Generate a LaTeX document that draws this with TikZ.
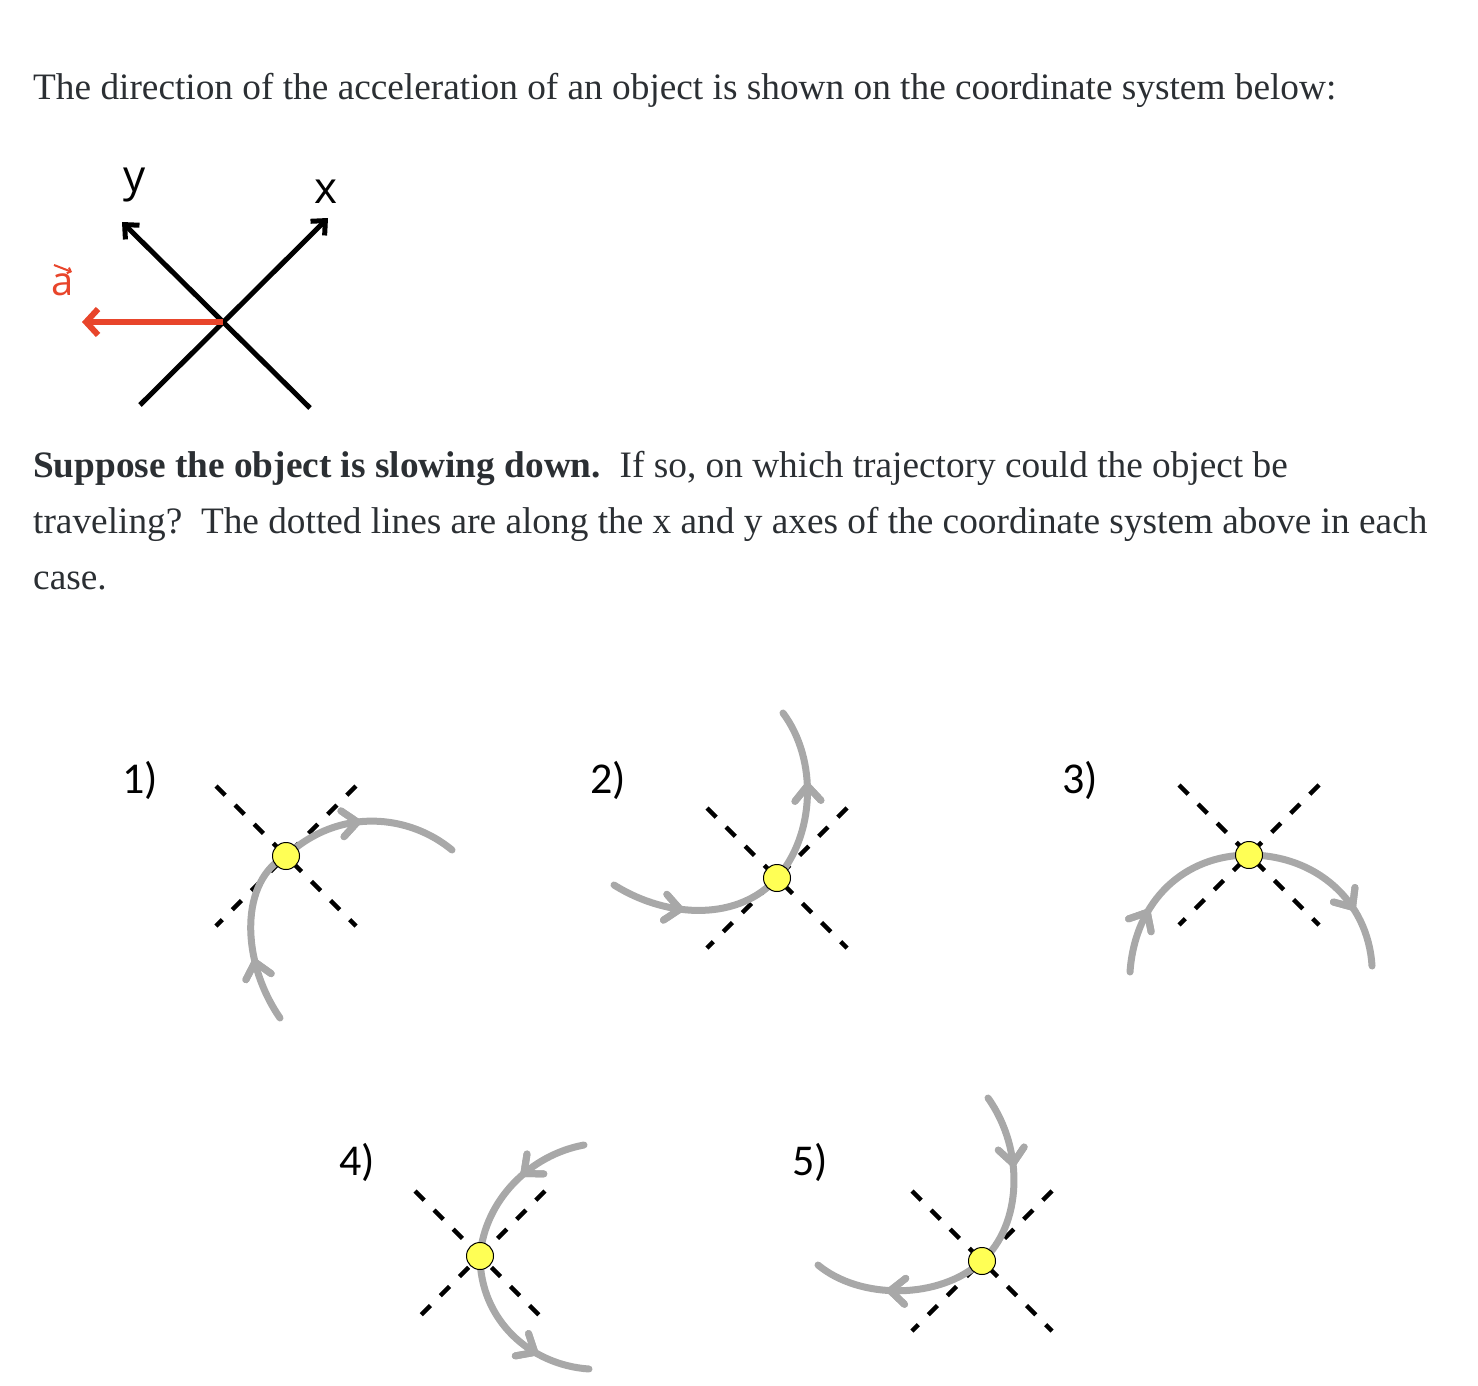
\documentclass[tikz,border=0pt]{standalone}
\usepackage{fontspec}
\setmainfont{Liberation Serif}
\newfontfamily\lblfont{Carlito}
\newfontfamily\axfont{Open Sans}
\usetikzlibrary{arrows.meta,decorations.markings,calc}
\definecolor{redA}{HTML}{E8452B}
\definecolor{trajg}{HTML}{A8A8A8}
\definecolor{dotY}{HTML}{FFFF55}
\definecolor{txt}{HTML}{2B2F33}
\tikzset{
  body/.style={anchor=base west,inner sep=0,font=\fontsize{37.3}{42}\selectfont,text=txt},
  num/.style={inner sep=0,font=\lblfont\fontsize{44}{44}\selectfont},
  dashax/.style={line width=4.5pt,dash pattern=on 13pt off 14pt},
  traj/.style={trajg,line width=7pt,line cap=round},
  chev/.style={postaction={decorate},decoration={markings,mark=at position #1 with {\draw[trajg,line width=7pt,line cap=round,-] (-15pt,13pt)--(0,0)--(-15pt,-13pt);}}},
  ydot/.style={circle,draw=black,line width=1pt,fill=dotY,minimum size=27pt,inner sep=0},
  axis/.style={line width=5pt,-{Straight Barb[length=11pt,width=20pt,line width=5pt]}}
}
\begin{document}
\begin{tikzpicture}[x=1pt,y=-1pt]
\useasboundingbox (0,0) rectangle (1478,1386);
\node[body] (t1) at (33,100) {The direction of the acceleration of an object is shown on the coordinate system below:};
\node[body] (t2) at (33,477) {\textbf{Suppose the object is slowing down.}\ \ If so, on which trajectory could the object be};
\node[body] (t3) at (33,533) {traveling?\ \ The dotted lines are along the x and y axes of the coordinate system above in each};
\node[body] (t4) at (33,589) {case.};
% axes
\coordinate (o) at (223,322);
\coordinate (xs) at (140,405); \coordinate (xe) at (328,218);
\coordinate (ys) at (310,408); \coordinate (ye) at (122,222);
\draw[axis] (xs) -- (xe);
\draw[axis] (ys) -- (ye);
\coordinate (ae) at (82,322);
\draw[redA,line width=6pt,-{Straight Barb[length=12pt,width=26pt,line width=6pt]}] (o) -- (ae);
\node[inner sep=0,font=\axfont\fontsize{44}{44}\selectfont] (ylab) at (135,185) {y};
\node[inner sep=0,font=\axfont\fontsize{44}{44}\selectfont] (xlab) at (326,192) {x};
\node[inner sep=0,text=redA,font=\axfont\fontsize{40}{40}\selectfont] (alab) at (63,285) {a};
\coordinate (av1) at (54,265); \coordinate (av2) at (72,272);
\draw[redA,line width=2pt,-{Straight Barb[length=3pt,width=6pt,line width=2pt]}] (av1) -- (av2);
% case 1
\node[num] (n1) at (140,780) {1)};
\coordinate (c1) at (286,856);
\draw[dashax] ($(c1)+(-70,-70)$) -- ($(c1)+(70,70)$);
\draw[dashax] ($(c1)+(70,-70)$) -- ($(c1)+(-70,70)$);
\draw[traj,chev=0.17,chev=0.72] (280,1018) .. controls (240,960) and (240,880) .. (286,856) .. controls (340,806) and (410,815) .. (452,850);
\node[ydot] (d1) at (c1) {};
% case 2
\node[num] (n2) at (608,780) {2)};
\coordinate (c2) at (777,878);
\draw[dashax] ($(c2)+(-70,-70)$) -- ($(c2)+(70,70)$);
\draw[dashax] ($(c2)+(70,-70)$) -- ($(c2)+(-70,70)$);
\draw[traj,chev=0.2,chev=0.78] (614,885) .. controls (670,920) and (740,920) .. (777,878) .. controls (815,835) and (818,760) .. (783,713);
\node[ydot] (d2) at (c2) {};
% case 3
\node[num] (n3) at (1080,780) {3)};
\coordinate (c3) at (1249,855);
\draw[dashax] ($(c3)+(-70,-70)$) -- ($(c3)+(70,70)$);
\draw[dashax] ($(c3)+(70,-70)$) -- ($(c3)+(-70,70)$);
\draw[traj,chev=0.17,chev=0.83] (1130,972) .. controls (1135,900) and (1185,855) .. (1249,855) .. controls (1315,855) and (1368,900) .. (1372,966);
\node[ydot] (d3) at (c3) {};
% case 4
\node[num] (n4) at (357,1162) {4)};
\coordinate (c4) at (480,1256);
\draw[dashax] ($(c4)+(-65,-65)$) -- ($(c4)+(65,65)$);
\draw[dashax] ($(c4)+(65,-65)$) -- ($(c4)+(-65,65)$);
\draw[traj,chev=0.2,chev=0.83] (584,1145) .. controls (530,1155) and (485,1200) .. (480,1256) .. controls (480,1320) and (530,1365) .. (589,1369);
\node[ydot] (d4) at (c4) {};
% case 5
\node[num] (n5) at (810,1162) {5)};
\coordinate (c5) at (982,1261);
\draw[dashax] ($(c5)+(-70,-70)$) -- ($(c5)+(70,70)$);
\draw[dashax] ($(c5)+(70,-70)$) -- ($(c5)+(-70,70)$);
\draw[traj,chev=0.2,chev=0.78] (988,1098) .. controls (1025,1150) and (1022,1225) .. (982,1261) .. controls (940,1300) and (860,1300) .. (818,1265);
\node[ydot] (d5) at (c5) {};
\end{tikzpicture}
\end{document}
